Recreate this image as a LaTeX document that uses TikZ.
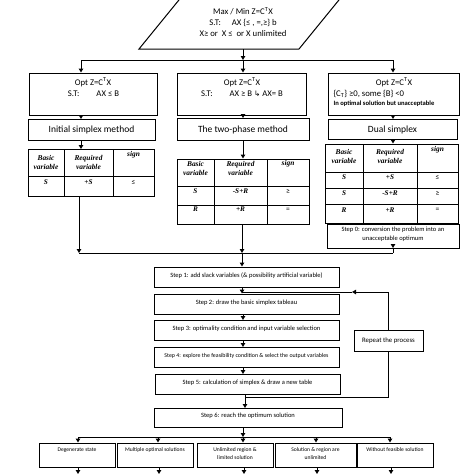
\documentclass[tikz,border=0pt]{standalone}
\usepackage{fontspec}
\setmainfont{Carlito}
\newfontfamily\tabfont{Liberation Serif}
\newfontfamily\symfont{DejaVu Sans}
\usetikzlibrary{arrows.meta}
\tikzset{
  box/.style={draw, rectangle, inner sep=0pt},
  txt/.style={inner sep=0pt, align=center, font=\fontsize{8.7}{11}\selectfont},
  mtxt/.style={font=\fontsize{9.5}{10}\selectfont},
  stxt/.style={inner sep=0pt, align=center, font=\fontsize{6.5}{8.5}\selectfont},
  otxt/.style={inner sep=0pt, align=center, font=\fontsize{5.6}{8}\selectfont},
  hdr/.style={inner sep=0pt, align=center, font=\tabfont\bfseries\itshape\fontsize{7.4}{9}\selectfont},
  cell/.style={inner sep=0pt, font=\tabfont\bfseries\itshape\fontsize{7.2}{8}\selectfont},
  sgn/.style={inner sep=0pt, font=\fontsize{7.5}{8}\selectfont},
  arr/.style={-{Triangle[length=4pt,width=4.5pt]}},
}
\begin{document}
\begin{tikzpicture}[x=1pt,y=-1pt,line width=1pt]
\useasboundingbox (0,0) rectangle (474,474);
\clip (0,0) rectangle (474,474);
% top parallelogram
\coordinate (p1) at (139,49);
\coordinate (p2) at (299,49);
\coordinate (p3) at (343,-5);
\coordinate (p4) at (183,-5);
\draw (p1) -- (p2) -- (p3) -- (p4) -- cycle;
\node[txt] (top) at (243,22) {Max / Min Z=C\textsuperscript{T}X\\
  S.T:\hspace{11pt}AX \{≤ , =,≥\} b\\
  X≥ or\ \ X ≤\ \ or X unlimited};
\coordinate (ptop) at (243,49);
\coordinate (hA) at (81,60);
\coordinate (hB) at (243,60);
\coordinate (hC) at (393,60);
\draw[arr] (ptop) -- (hB);
\draw (hA) -- (hC);
% row 1 boxes
\node[box, minimum width=128pt, minimum height=42pt] (bA) at (93,94) {};
\node[box, minimum width=129pt, minimum height=42pt] (bB) at (241.5,94) {};
\node[box, minimum width=131pt, minimum height=42pt] (bC) at (393.5,94) {};
\draw[arr] (hA) -- (hA |- bA.north);
\draw[arr] (hB) -- (hB |- bB.north);
\draw[arr] (hC) -- (hC |- bC.north);
\node[txt] (a1) at (93,82) {Opt Z=C\textsuperscript{T}X};
\node[txt] (a2) at (93.5,94) {S.T:\hspace{17pt}AX ≤ B};
\node[txt] (b1) at (242,82) {Opt Z=C\textsuperscript{T}X};
\node[txt] (b2) at (242,94) {S.T:\hspace{17pt}AX ≥ B {\symfont\fontsize{7.5}{8}\selectfont ↳} AX= B};
\node[txt] (c1) at (394,82) {Opt Z=C\textsuperscript{T}X};
\node[txt, anchor=west] (c2) at (333,94) {\{C\textsubscript{T}\} ≥0, some \{B\} <0};
\node[inner sep=0pt, anchor=west, font=\bfseries\fontsize{6.6}{7}\selectfont] (c3) at (333,103.5) {In optimal solution but unacceptable};
% method boxes
\node[box, mtxt, minimum width=127pt, minimum height=21pt] (mA) at (91.5,129.5) {Initial simplex method};
\node[box, mtxt, minimum width=132pt, minimum height=22pt] (mB) at (243,129.5) {The two-phase method};
\node[box, mtxt, minimum width=129pt, minimum height=20pt] (mC) at (392.5,129.5) {Dual simplex};
\draw[arr] (81,115) -- (81,119);
\draw[arr] (bB.south -| hB) -- (hB |- mB.north);
\draw[arr] (bC.south -| hC) -- (hC |- mC.north);
% table A
\node[box, minimum width=126pt, minimum height=47pt] (tA) at (91,172.5) {};
\draw (64,149) -- (64,196) (113,149) -- (113,196) (28,176) -- (154,176);
\node[hdr] (tAh1) at (46,162.5) {Basic\\variable};
\node[hdr] (tAh2) at (88.5,162.5) {Required\\variable};
\node[hdr] (tAh3) at (133.5,155) {sign};
\node[cell] (tA1) at (46,182) {S};
\node[cell] (tA2) at (88.5,182) {+S};
\node[sgn] (tA3) at (133.5,182) {≤};
\draw[arr] (81,140) -- (81,149);
% table B
\node[box, minimum width=132pt, minimum height=65pt] (tB) at (243,191.5) {};
\draw (214,159) -- (214,224) (267,159) -- (267,224) (177,186) -- (309,186) (177,205) -- (309,205);
\node[hdr] (tBh1) at (195.5,168) {Basic\\variable};
\node[hdr] (tBh2) at (240.5,168) {Required\\variable};
\node[hdr] (tBh3) at (288,164) {sign};
\node[cell] (tB1) at (195.5,191) {S};
\node[cell] (tB2) at (240.5,191) {-S+R};
\node[sgn] (tB3) at (288,191) {≥};
\node[cell] (tB4) at (195.5,209.5) {R};
\node[cell] (tB5) at (240.5,209.5) {+R};
\node[sgn] (tB6) at (288,209.5) {=};
\draw[arr] (mB.south -| hB) -- (hB |- tB.north);
% table C
\node[box, minimum width=133pt, minimum height=79pt] (tC) at (391.5,183.5) {};
\draw (363,144) -- (363,223) (417,144) -- (417,223) (325,172) -- (458,172) (325,188) -- (458,188) (325,204) -- (458,204);
\node[hdr] (tCh1) at (344,156.5) {Basic\\variable};
\node[hdr] (tCh2) at (390,156.5) {Required\\variable};
\node[hdr] (tCh3) at (437.5,150) {sign};
\node[cell] (tC1) at (344,177) {S};
\node[cell] (tC2) at (390,177) {+S};
\node[sgn] (tC3) at (437.5,177) {≤};
\node[cell] (tC4) at (344,193) {S};
\node[cell] (tC5) at (390,193) {-S+R};
\node[sgn] (tC6) at (437.5,193) {≥};
\node[cell] (tC7) at (344,210) {R};
\node[cell] (tC8) at (390,210) {+R};
\node[sgn] (tC9) at (437.5,210) {=};
\draw[arr] (mC.south -| hC) -- (hC |- tC.north);
% step 0
\node[box, minimum width=132pt, minimum height=24pt] (s0) at (393,236) {};
\node[stxt] (s0t) at (393,234.5) {Step 0: conversion the problem into an\\unacceptable optimum};
% collector line
\coordinate (gA) at (79,253);
\coordinate (gB) at (242,253);
\coordinate (gC) at (393,253);
\draw[arr] (79,196) -- (gA);
\draw[arr] (tB.south -| gB) -- (gB);
\draw (s0.south -| gC) -- (gC);
\draw[arr] (393,244) -- (393,248);
\draw (gA) -- (gC);
% steps
\node[box, minimum width=185pt, minimum height=20pt] (s1) at (246.5,277) {};
\node[stxt] (s1t) at (246.5,275.5) {Step 1: add slack variables (\& possibility artificial variable)};
\node[box, minimum width=185pt, minimum height=20pt] (s2) at (246.5,304) {};
\node[stxt] (s2t) at (246.5,302.5) {Step 2: draw the basic simplex tableau};
\node[box, minimum width=185pt, minimum height=20pt] (s3) at (246.5,330) {};
\node[stxt] (s3t) at (246.5,328.5) {Step 3: optimality condition and input variable selection};
\node[box, minimum width=185pt, minimum height=20pt] (s4) at (246.5,357) {};
\node[stxt, font=\fontsize{5.9}{7}\selectfont] (s4t) at (246.5,355.5) {Step 4: explore the feasibility condition \& select the output variables};
\node[box, minimum width=185pt, minimum height=20pt] (s5) at (247.5,384) {};
\node[stxt] (s5t) at (247.5,382.5) {Step 5: calculation of simplex \& draw a new table};
\node[box, minimum width=188pt, minimum height=19pt] (s6) at (248,417.5) {};
\node[stxt] (s6t) at (248,416) {Step 6: reach the optimum solution};
\draw[arr] (gB) -- (gB |- s1.north);
\draw[arr] (s1.south -| gB) -- (gB |- s2.north);
\draw[arr] (243,314) -- (243,320);
\draw[arr] (243,340) -- (243,347);
\draw[arr] (243,367) -- (243,374);
\draw[arr] (245,394) -- (245,408);
% repeat
\node[box, minimum width=69pt, minimum height=21pt, font=\fontsize{6.8}{7}\selectfont] (rep) at (388.5,340.5) {Repeat the process};
\coordinate (r1) at (388.5,292);
\coordinate (r2) at (352,292);
\coordinate (r3) at (242,292);
\coordinate (r4) at (388.5,397);
\coordinate (r5) at (245,397);
\draw[arr] (rep.north) -- (r1) -- (r2);
\draw (r2) -- (r3);
\draw (rep.south) -- (r4) -- (r5);
% outcomes
\coordinate (d1) at (78,437);
\coordinate (d2) at (158,437);
\coordinate (d3) at (243,437);
\coordinate (d4) at (316,437);
\coordinate (d5) at (390,437);
\draw[arr] (s6.south -| d3) -- (d3);
\draw (d1) -- (d5);
\node[box, minimum width=76pt, minimum height=24pt] (o1) at (77,455) {};
\node[box, minimum width=76pt, minimum height=24pt] (o2) at (155,455) {};
\node[box, minimum width=76pt, minimum height=24pt] (o3) at (235,455) {};
\node[box, minimum width=81pt, minimum height=24pt] (o4) at (315.5,455) {};
\node[box, minimum width=76pt, minimum height=24pt] (o5) at (395,455) {};
\node[otxt, anchor=north] (o1t) at (77,447.5) {Degenerate state};
\node[otxt, anchor=north] (o2t) at (155,447.5) {Multiple optimal solutions};
\node[otxt, anchor=north] (o3t) at (235,447.5) {Unlimited region \&\\limited solution};
\node[otxt, anchor=north] (o4t) at (315.5,447.5) {Solution \& region are\\unlimited};
\node[otxt, anchor=north] (o5t) at (395,447.5) {Without feasible solution};
\foreach \d/\o in {d1/o1,d2/o2,d3/o3,d4/o4,d5/o5}{
  \draw[arr] (\d) -- (\d |- \o.north);
}
\coordinate (e1) at (78,474);
\coordinate (e2) at (159,474);
\coordinate (e3) at (244,474);
\coordinate (e4) at (317,474);
\coordinate (e5) at (391,474);
\foreach \e/\o in {e1/o1,e2/o2,e3/o3,e4/o4,e5/o5}{
  \draw[arr] (\e |- \o.south) -- (\e);
}
\end{tikzpicture}
\end{document}
